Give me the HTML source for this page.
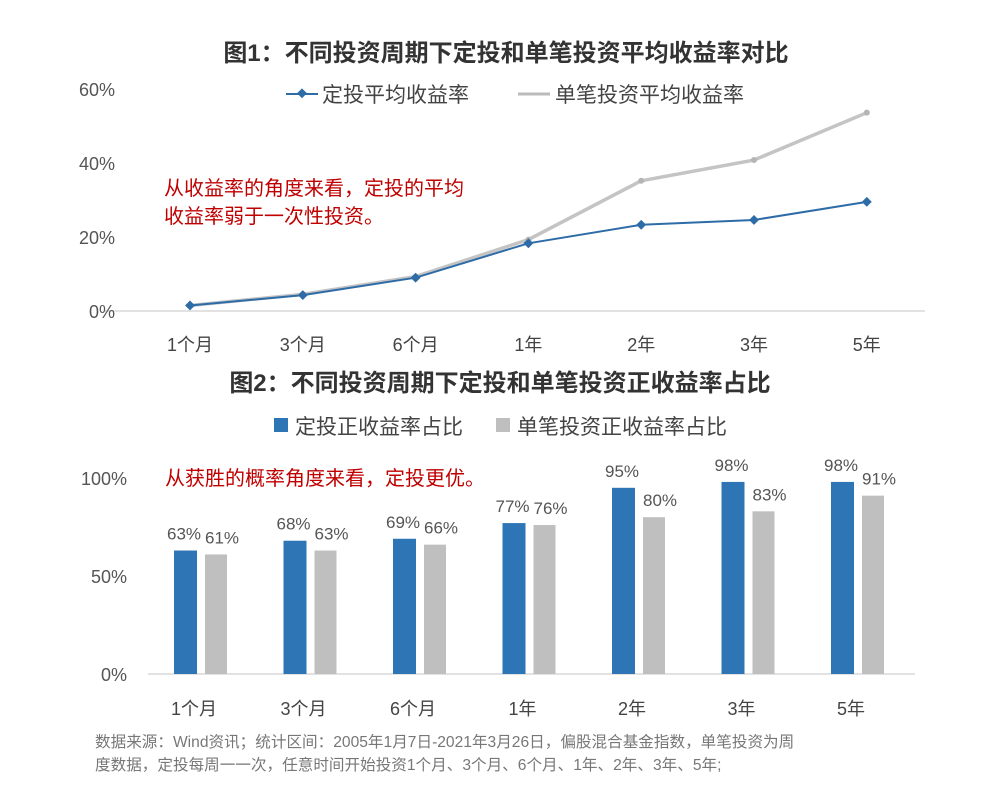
<!DOCTYPE html>
<html><head><meta charset="utf-8">
<style>
body{margin:0;background:#fff;width:1000px;height:794px;overflow:hidden;font-family:"Liberation Sans","Noto Sans CJK SC",sans-serif;}
svg text{font-family:"Liberation Sans","Noto Sans CJK SC",sans-serif;}
</style></head>
<body>
<svg id="c" width="1000" height="794">
<text x="506" y="61" text-anchor="middle" font-size="24" font-weight="bold" fill="#333">图1：不同投资周期下定投和单笔投资平均收益率对比</text>
<g>
<line x1="286" y1="94" x2="318" y2="94" stroke="#2e6ca8" stroke-width="2"/>
<rect x="298" y="90" width="7" height="7" transform="rotate(45 302 94)" fill="#2e6ca8"/>
<text x="322" y="102" font-size="21" fill="#444">定投平均收益率</text>
<line x1="518" y1="94" x2="550" y2="94" stroke="#bbb" stroke-width="3"/>
<text x="555" y="102" font-size="21" fill="#444">单笔投资平均收益率</text>
</g>
<text x="164" y="195" font-size="20" fill="#c00000">从收益率的角度来看，定投的平均</text>
<text x="164" y="223" font-size="20" fill="#c00000">收益率弱于一次性投资。</text>
<g id="g1"></g>
<text x="500" y="391" text-anchor="middle" font-size="24" font-weight="bold" fill="#333">图2：不同投资周期下定投和单笔投资正收益率占比</text>
<g>
<rect x="274" y="418" width="14" height="14" fill="#2e75b6"/>
<text x="295" y="434" font-size="21" fill="#444">定投正收益率占比</text>
<rect x="496" y="418" width="14" height="14" fill="#bfbfbf"/>
<text x="517" y="434" font-size="21" fill="#444">单笔投资正收益率占比</text>
</g>
<text x="165" y="485" font-size="20" fill="#c00000">从获胜的概率角度来看，定投更优。</text>
<g id="g2"></g>
<text x="95" y="747" font-size="15.6" fill="#777">数据来源：Wind资讯；统计区间：2005年1月7日-2021年3月26日，偏股混合基金指数，单笔投资为周</text>
<text x="95" y="770" font-size="15.6" fill="#777">度数据，定投每周一一次，任意时间开始投资1个月、3个月、6个月、1年、2年、3年、5年;</text>
</svg>
<script>
const categories=["1个月","3个月","6个月","1年","2年","3年","5年"];
const avgDca=[1.5,4.3,9.0,18.3,23.3,24.6,29.5];
const avgLump=[1.5,4.5,9.3,19.3,35.2,40.8,53.6];
const ticks1=[0,20,40,60];
const winDca=[63,68,69,77,95,98,98];
const winLump=[61,63,66,76,80,83,91];
const ticks2=[0,50,100];
const NS="http://www.w3.org/2000/svg";
function mk(p,t,a){const e=document.createElementNS(NS,t);for(const k in a)e.setAttribute(k,a[k]);p.appendChild(e);return e;}
// chart1
const g1=document.getElementById('g1');
const x1=i=>190+i*112.8, y1=v=>311-v*3.7;
const ax1=mk(g1,'line',{x1:105,x2:925,y1:311,y2:311,stroke:'#d9d9d9','stroke-width':1.5});


ticks1.forEach(t=>{const e=mk(g1,'text',{x:115,y:y1(t)+7,'text-anchor':'end','font-size':18,fill:'#555'});e.textContent=t+'%';

});
categories.forEach((c,i)=>{const e=mk(g1,'text',{x:x1(i),y:351,'text-anchor':'middle','font-size':18,fill:'#444'});e.textContent=c;

});
const l2=mk(g1,'polyline',{points:avgLump.map((v,i)=>x1(i)+','+y1(v)).join(' '),fill:'none',stroke:'#c4c4c4','stroke-width':3.5});


avgLump.forEach((v,i)=>{const p=mk(g1,'circle',{cx:x1(i),cy:y1(v),r:3,fill:'#b5b5b5'});

});
const l1=mk(g1,'polyline',{points:avgDca.map((v,i)=>x1(i)+','+y1(v)).join(' '),fill:'none',stroke:'#2e6ca8','stroke-width':2});


avgDca.forEach((v,i)=>{const p=mk(g1,'rect',{x:x1(i)-3.5,y:y1(v)-3.5,width:7,height:7,fill:'#2e6ca8',transform:`rotate(45 ${x1(i)} ${y1(v)})`});

});
// chart2
const g2=document.getElementById('g2');
const x2=i=>200+i*109.5, y2=v=>674-v*1.96;
const ax2=mk(g2,'line',{x1:148,x2:915,y1:674,y2:674,stroke:'#d9d9d9','stroke-width':1.5});


ticks2.forEach(t=>{const e=mk(g2,'text',{x:127,y:y2(t)+7,'text-anchor':'end','font-size':18,fill:'#555'});e.textContent=t+'%';

});
categories.forEach((c,i)=>{const e=mk(g2,'text',{x:x2(i)-6,y:715,'text-anchor':'middle','font-size':18,fill:'#444'});e.textContent=c;

});
categories.forEach((c,i)=>{
const b=mk(g2,'rect',{x:x2(i)-26,y:y2(winDca[i]),width:23,height:winDca[i]*1.96,fill:'#2e75b6'});


const g=mk(g2,'rect',{x:x2(i)+5,y:y2(winLump[i]),width:22,height:winLump[i]*1.96,fill:'#bfbfbf'});


const t1=mk(g2,'text',{x:x2(i)-16,y:y2(winDca[i])-11,'text-anchor':'middle','font-size':17,fill:'#555'});t1.textContent=winDca[i]+'%';


const t2=mk(g2,'text',{x:x2(i)+22,y:y2(winLump[i])-11,'text-anchor':'middle','font-size':17,fill:'#555'});t2.textContent=winLump[i]+'%';


});
</script>
</body></html>
